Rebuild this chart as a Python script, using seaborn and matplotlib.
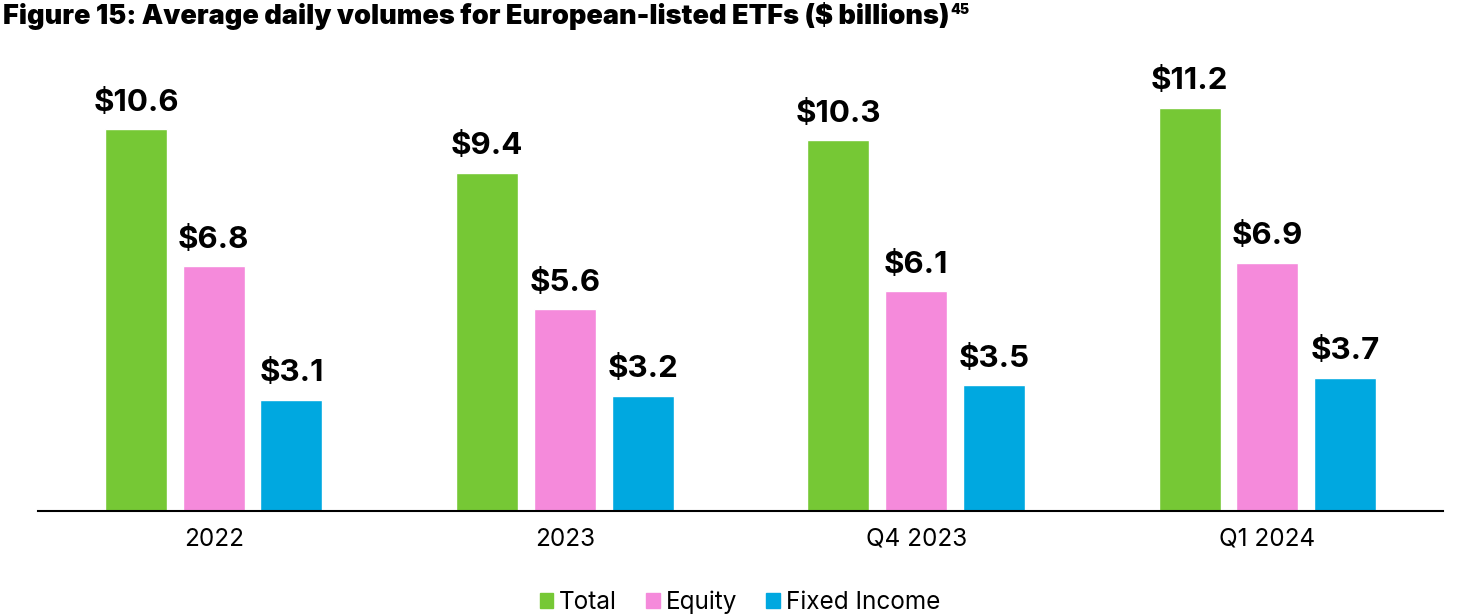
import numpy as np
import pandas as pd
import matplotlib.pyplot as plt
import seaborn as sns

periods = ["2022", "2023", "Q4 2023", "Q1 2024"]
series = ["Total", "Equity", "Fixed Income"]
total = [10.6, 9.4, 10.3, 11.2]
equity = [6.8, 5.6, 6.1, 6.9]
fixed_income = [3.1, 3.2, 3.5, 3.7]
colors = ["#76C835", "#F58ADB", "#00A8E0"]

df = pd.DataFrame({
    "period": periods * 3,
    "series": np.repeat(series, len(periods)),
    "value": total + equity + fixed_income,
})

sns.set_style("white")
plt.rcParams["font.family"] = ["Inter", "DejaVu Sans"]
plt.rcParams["text.color"] = "black"
plt.rcParams["xtick.color"] = "black"

fig = plt.figure(figsize=(14.8, 6.16), dpi=100)
ax = fig.add_axes([0.0257, 0.170, 0.9493, 0.702])

sns.barplot(data=df, x="period", y="value", hue="series", order=periods,
            hue_order=series, palette=colors, width=0.664, gap=0.2,
            saturation=1, legend=False, ax=ax)

for cont in ax.containers:
    ax.bar_label(cont, labels=[f"\\${v:.1f}" for v in cont.datavalues],
                 padding=9, fontsize=22.5, fontweight="bold", color="black")

ax.set_xlim(-0.5, 3.5)
ax.set_ylim(0, 12)
ax.set_xlabel("")
ax.set_ylabel("")
ax.set_yticks([])
ax.tick_params(axis="x", length=0, labelsize=17.5, pad=12)
for s in ["top", "right", "left"]:
    ax.spines[s].set_visible(False)
ax.spines["bottom"].set_color("black")
ax.spines["bottom"].set_linewidth(1.5)

handles = [plt.Rectangle((0, 0), 1, 1, color=c) for c in colors]
fig.legend(handles, series, loc="lower center", bbox_to_anchor=(0.5, -0.032),
           ncol=3, frameon=False, fontsize=17.5, handlelength=0.55,
           handleheight=0.55, handletextpad=0.25, columnspacing=1.2)

title = fig.text(0.002, 0.974, "Figure 15: Average daily volumes for European-listed ETFs (\\$ billions)",
                 fontsize=19.5, fontweight="black", ha="left", va="center")
fig.canvas.draw()
ax.annotate("45", xy=(1.0, 1.0), xycoords=title, xytext=(1, -1),
            textcoords="offset points", fontsize=10, fontweight="black",
            ha="left", va="top", annotation_clip=False)

fig.savefig("out.png", dpi=100)
